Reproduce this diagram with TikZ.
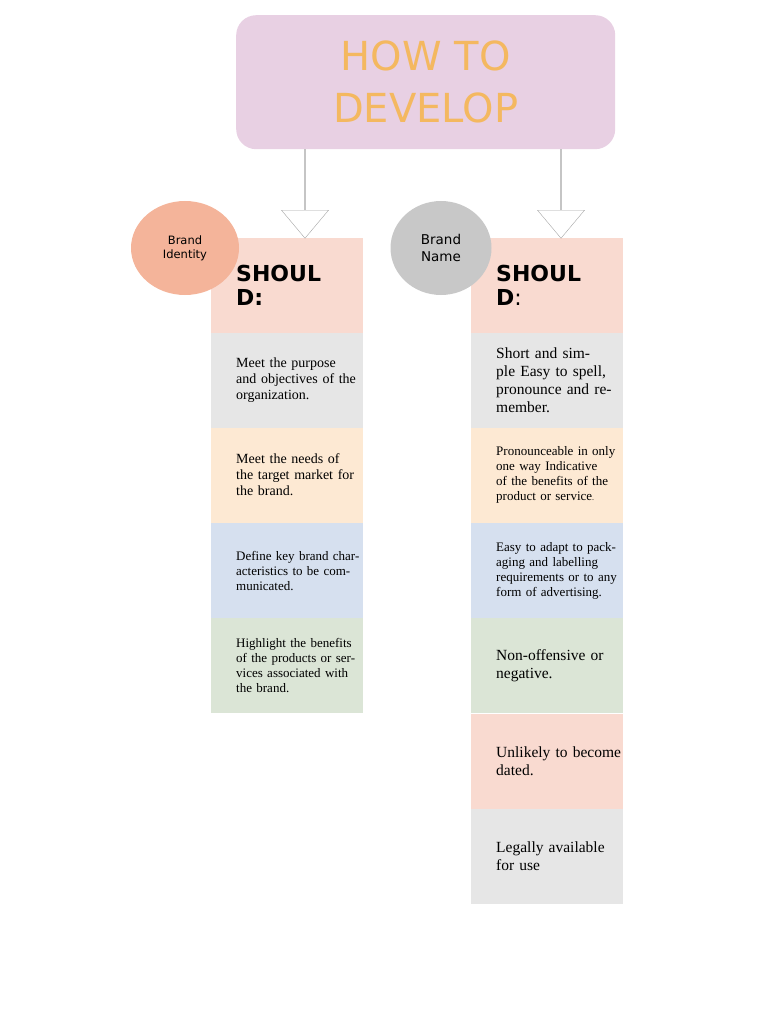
\documentclass[tikz,border=0pt]{standalone}
\usepackage{fontspec}
\setmainfont{Liberation Serif}
\newfontfamily\dv{DejaVu Sans}
\usetikzlibrary{shapes.geometric,shapes.arrows}
\definecolor{tpink}{HTML}{E8D0E3}
\definecolor{torange}{HTML}{F4B860}
\definecolor{cpink}{HTML}{F9DAD0}
\definecolor{cgray}{HTML}{E6E6E6}
\definecolor{cpeach}{HTML}{FDE9D3}
\definecolor{cblue}{HTML}{D6E0EF}
\definecolor{cgreen}{HTML}{DBE5D6}
\definecolor{csal}{HTML}{F4B49A}
\definecolor{cgr}{HTML}{C8C8C8}
\begin{document}
\begin{tikzpicture}[x=1pt,y=-1pt,
 cell/.style={draw=none,minimum width=152pt,minimum height=95pt,inner sep=0pt,anchor=north west},
 txt/.style={anchor=west,align=left,text width=125pt,inner sep=0pt,font=\fontsize{13}{15}\selectfont},
 big/.style={txt,font=\fontsize{15.5}{18}\selectfont},
 hd/.style={anchor=west,align=left,text width=120pt,inner sep=0pt,font=\dv\bfseries\fontsize{22}{24}\selectfont},
 barr/.style={draw=gray!70,fill=white,single arrow,shape border rotate=270,minimum width=47pt,single arrow head extend=11.5pt,single arrow tip angle=80,minimum height=89pt,inner sep=0pt,single arrow head indent=0pt}]
\useasboundingbox (0,0) rectangle (768,1024);
\node[fill=tpink,rounded corners=20pt,minimum width=379pt,minimum height=134pt,anchor=north west,text=torange,align=center,font=\dv\fontsize{40}{52}\selectfont] (title) at (236,15) {HOW TO\\DEVELOP};
% columns
\foreach \c/\y [count=\i] in {cpink/238,cgray/333,cpeach/428,cblue/523,cgreen/618}
  \node[cell,fill=\c] (L\i) at (211,\y) {};
\foreach \c/\y [count=\i] in {cpink/238,cgray/333,cpeach/428,cblue/523,cgreen/618,cpink/714,cgray/809}
  \node[cell,fill=\c] (R\i) at (471,\y) {};
\node[barr] (a1) at (305,193.5) {};
\node[barr] (a2) at (561,193.5) {};
\node[ellipse,fill=csal,minimum width=108pt,minimum height=94pt,inner sep=0pt,align=center,font=\dv\fontsize{11.5}{14}\selectfont] (bi) at (185,248) {Brand\\Identity};
\node[ellipse,fill=cgr,minimum width=101pt,minimum height=94pt,inner sep=0pt,align=center,font=\dv\fontsize{13.5}{17}\selectfont] (bn) at (441,248) {Brand\\Name};
\node[hd] (lh) at (236,285) {SHOUL\\D:};
\node[hd] (rh) at (496,285) {SHOUL\\D\textmd{:}};
\node[big,font=\fontsize{14}{16}\selectfont] (l2) at (236,380) {Meet the purpose and objectives of the organization.};
\node[big,font=\fontsize{14}{16}\selectfont] (l3) at (236,475) {Meet the needs of the target market for the brand.};
\node[txt] (l4) at (236,571) {Define key brand characteristics to be communicated.};
\node[txt] (l5) at (236,666) {Highlight the benefits of the products or services associated with the brand.};
\node[big,text width=120pt] (r2) at (496,380) {Short and simple Easy to spell, pronounce and remember.};
\node[txt] (r3) at (496,475) {Pronounceable in only one way Indicative of the benefits of the product or service{\footnotesize.}};
\node[txt,text width=122pt] (r4) at (496,571) {Easy to adapt to packaging and labelling requirements or to any form of advertising.};
\node[big] (r5) at (496,666) {Non-offensive or negative.};
\node[big] (r6) at (496,761) {Unlikely to become dated.};
\node[big] (r7) at (496,856) {Legally available for use};
\end{tikzpicture}
\end{document}
